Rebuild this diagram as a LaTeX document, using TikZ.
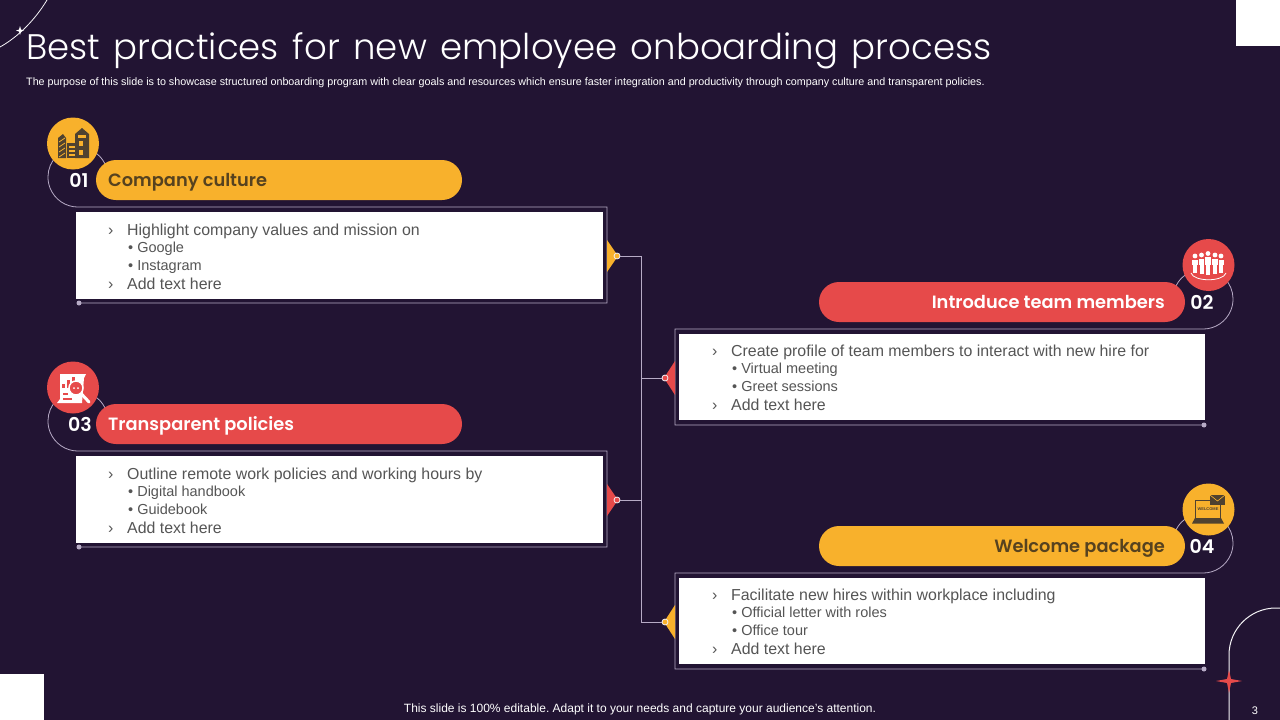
\documentclass[tikz,border=0pt]{standalone}
\usepackage{fontspec}
\setmainfont{Liberation Sans}
\newfontfamily\headfont{Poppins SemiBold}
\newfontfamily\titlefont[WordSpace=1.4]{Poppins Light}
\usetikzlibrary{positioning}
\frenchspacing

\definecolor{slidebg}{HTML}{221433}
\definecolor{amber}{HTML}{F8B12C}
\definecolor{coral}{HTML}{E64A4A}
\definecolor{wire}{HTML}{B7ABC6}
\definecolor{bodygrey}{HTML}{555555}
\definecolor{inkbrown}{HTML}{56421F}
\definecolor{iconbrown}{HTML}{4F4230}

\newcommand{\mainline}[1]{\makebox[19pt][l]{›}#1}
\newcommand{\subline}[1]{\hspace*{20pt}\raisebox{1pt}{\fontsize{14.5}{18}\selectfont • #1}}

\tikzset{
    wireline/.style={draw=wire,line width=0.8pt},
    panelbox/.style={fill=white,anchor=north west,inner sep=0pt},
    paneltext/.style={anchor=north west,align=left,inner sep=0pt,text=bodygrey,
        font=\fontsize{15.9}{18}\selectfont},
    pill/.style={minimum width=366pt,minimum height=40pt,rounded corners=20pt,inner sep=0pt},
    pilltext/.style={font=\headfont\fontsize{17.8}{20}\selectfont,inner sep=0pt},
    numtext/.style={font=\headfont\fontsize{19}{20}\selectfont,text=white,inner sep=0pt,anchor=base},
    icondisc/.style={circle,minimum size=52pt,inner sep=0pt},
    joint/.style={circle,draw=white!85!wire,line width=0.8pt,minimum size=6pt,inner sep=0pt},
}

\begin{document}
\begin{tikzpicture}[x=1pt,y=-1pt]
    \useasboundingbox (0,0) rectangle (1280,720);
    \fill[slidebg] (0,0) rectangle (1280,720);

    % corners
    \fill[white] (1236,0) rectangle (1280,46);
    \fill[white] (0,674) rectangle (44,720);
    \draw[white!85!wire,line width=0.8pt] (47,0) .. controls (35,20) and (18,37) .. (0,47);
    \fill[white] (20,26) -- (21,29.5) -- (24,30.5) -- (21,31.5) -- (20,35) -- (19,31.5) -- (16,30.5) -- (19,29.5) -- cycle;
    \draw[white!85!wire,line width=1pt] (1229,720) -- (1229,655) arc[start angle=180,end angle=90,radius=47pt] -- (1280,608);
    \fill[coral] (1229,670) -- (1231,679) -- (1242,681) -- (1231,683) -- (1229,693) -- (1227,683) -- (1216,681) -- (1227,679) -- cycle;

    % heading
    \node[anchor=base west,inner sep=0pt,text=white,font=\titlefont\fontsize{35.5}{40}\selectfont] (title) at (26,59) {Best practices for new employee onboarding process};
    \node[anchor=base west,inner sep=0pt,text=white,font=\fontsize{10.75}{12}\selectfont] (subtitle) at (26,85) {The purpose of this slide is to showcase structured onboarding program with clear goals and resources which ensure faster integration and productivity through company culture and transparent policies.};

    % frames
    \draw[wireline] (105.8,165.8) arc[start angle=22,end angle=270,radius=30pt] -- (607,207) -- (607,303) -- (79,303);
    \draw[wireline] (105.8,409.8) arc[start angle=22,end angle=270,radius=30pt] -- (607,451) -- (607,547) -- (79,547);
    \draw[wireline] (1175.2,287.8) arc[start angle=158,end angle=-90,radius=30pt] -- (675,329) -- (675,425) -- (1204,425);
    \draw[wireline] (1175.2,531.8) arc[start angle=158,end angle=-90,radius=30pt] -- (675,573) -- (675,669) -- (1204,669);
    \fill[wire] (79,303) circle (2.5);
    \fill[wire] (79,547) circle (2.5);
    \fill[wire] (1204,425) circle (2.5);
    \fill[wire] (1204,669) circle (2.5);

    % white panels
    \node[panelbox,minimum width=527pt,minimum height=87pt] (boxA) at (76,212) {};
    \node[panelbox,minimum width=527pt,minimum height=87pt] (boxC) at (76,456) {};
    \node[panelbox,minimum width=526pt,minimum height=86pt] (boxB) at (679,334) {};
    \node[panelbox,minimum width=526pt,minimum height=86pt] (boxD) at (679,578) {};

    \node[paneltext] (textA) at (108,223.5) {\mainline{Highlight company values and mission on}\\\subline{Google}\\\subline{Instagram}\\\mainline{Add text here}};
    \node[paneltext] (textC) at (108,467.5) {\mainline{Outline remote work policies and working hours by}\\\subline{Digital handbook}\\\subline{Guidebook}\\\mainline{Add text here}};
    \node[paneltext] (textB) at (712,344.5) {\mainline{Create profile of team members to interact with new hire for}\\\subline{Virtual meeting}\\\subline{Greet sessions}\\\mainline{Add text here}};
    \node[paneltext] (textD) at (712,588.5) {\mainline{Facilitate new hires within workplace including}\\\subline{Official letter with roles}\\\subline{Office tour}\\\mainline{Add text here}};

    % pointers
    \fill[amber] (607,240) -- (618,256) -- (607,272) -- cycle;
    \fill[coral] (607,484) -- (618,500) -- (607,516) -- cycle;
    \fill[coral] (675,361) -- (664,378) -- (675,395) -- cycle;
    \fill[amber] (675,605) -- (664,622) -- (675,639) -- cycle;

    % connectors
    \node[joint,fill=amber] (jointA) at (617,256) {};
    \node[joint,fill=coral] (jointC) at (617,500) {};
    \node[joint,fill=coral] (jointB) at (665,378) {};
    \node[joint,fill=amber] (jointD) at (665,622) {};
    \coordinate (trunkA) at (641,256);
    \coordinate (trunkD) at (641,622);
    \draw[wireline] (jointA) -- (trunkA) -- (trunkD) -- (jointD);
    \draw[wireline] (jointC) -- (jointC -| trunkA);
    \draw[wireline] (jointB) -- (jointB -| trunkA);

    % pills
    \node[pill,fill=amber] (pillA) at (279,180) {};
    \node[pill,fill=coral] (pillC) at (279,424) {};
    \node[pill,fill=coral] (pillB) at (1002,302) {};
    \node[pill,fill=amber] (pillD) at (1002,546) {};
    \node[pilltext,anchor=base west,text=inkbrown] (labelA) at (108,186.5) {Company culture};
    \node[pilltext,anchor=base west,text=white] (labelC) at (108,430.5) {Transparent policies};
    \node[pilltext,anchor=base east,text=white] (labelB) at (1165,308.5) {Introduce team members};
    \node[pilltext,anchor=base east,text=inkbrown] (labelD) at (1165,552.5) {Welcome package};
    \node[numtext] (numA) at (79,187) {01};
    \node[numtext] (numC) at (80,431) {03};
    \node[numtext] (numB) at (1202,309) {02};
    \node[numtext] (numD) at (1202,553) {04};

    % icon discs
    \node[icondisc,fill=amber] (iconA) at (73,143.5) {};
    \node[icondisc,fill=coral] (iconC) at (73,387.5) {};
    \node[icondisc,fill=coral] (iconB) at (1208.5,265) {};
    \node[icondisc,fill=amber] (iconD) at (1208.5,509.5) {};

    % buildings
    \fill[iconbrown] (58,158) -- (58,138) -- (63,134) -- (66,138) -- (66,158) -- cycle;
    \fill[iconbrown] (67,158) -- (67,143) -- (76,143) -- (76,158) -- cycle;
    \fill[iconbrown] (75,158) -- (75,134) -- (82,128) -- (89,134) -- (89,158) -- cycle;
    \fill[amber] (78,135) rectangle (86,138);
    \fill[amber] (79,141) rectangle (83,146);
    \fill[amber] (79,150) rectangle (83,155);
    \foreach \yy in {146,150,154}
        \fill[amber] (69,\yy) rectangle (75,\yy+1.5);
    \foreach \yy in {140,145,150,155}
        \draw[amber,line width=0.8pt] (59,\yy+2) -- (65,\yy-2);

    % report with lens
    \fill[white] (60,374) -- (86,374) -- (84,378) -- (82,403) -- (57,403) -- (60,399) -- cycle;
    \fill[coral] (62,388) rectangle (65,384);
    \fill[coral] (67,388) rectangle (70,380);
    \fill[coral] (72,388) rectangle (75,377);
    \fill[coral] (63,393) rectangle (68,395);
    \fill[coral] (63,398) rectangle (72,400);
    \draw[white,fill=coral,line width=1.5pt] (76,388) circle (7);
    \draw[white,line width=3pt,line cap=round] (81.5,394) -- (89,402);
    \fill[white] (74,388) circle (1);
    \fill[white] (78,388) circle (1);

    % team
    \foreach \xx/\yy/\hh in {1195/256/17,1221/256/17,1201.5/255/19,1215/255/19,1208/253.5/22}{
        \fill[white] (\xx,\yy) circle (2.4);
        \fill[white,draw=coral,line width=0.4pt] (\xx-3.4,\yy+3) -- (\xx+3.4,\yy+3) -- (\xx+3.4,\yy+\hh*0.55) -- (\xx+2.4,\yy+\hh*0.55) -- (\xx+2.4,\yy+\hh) -- (\xx-2.4,\yy+\hh) -- (\xx-2.4,\yy+\hh*0.55) -- (\xx-3.4,\yy+\hh*0.55) -- cycle;
    }
    \draw[white,line width=0.8pt] (1191,273) .. controls (1194,282) and (1223,282) .. (1226,273);

    % laptop with envelope
    \draw[iconbrown,line width=1pt] (1195.5,518) -- (1195.5,500.5) -- (1220.5,500.5) -- (1220.5,518);
    \node[inner sep=0pt,text=iconbrown,font=\bfseries\fontsize{4}{4}\selectfont] (welcometext) at (1208,509) {WELCOME};
    \fill[iconbrown] (1195,518) -- (1221,518) -- (1224,523.5) -- (1192,523.5) -- cycle;
    \fill[iconbrown] (1210,495) rectangle (1225,505);
    \draw[amber,line width=0.6pt] (1210,495) -- (1217.5,501) -- (1225,495);

    % footer
    \node[inner sep=0pt,text=white,font=\fontsize{12}{14}\selectfont] (footer) at (640,709) {This slide is 100\% editable. Adapt it to your needs and capture your audience's attention.};
    \node[inner sep=0pt,text=white,font=\fontsize{11}{12}\selectfont] (pagenum) at (1255,711) {3};
\end{tikzpicture}
\end{document}
